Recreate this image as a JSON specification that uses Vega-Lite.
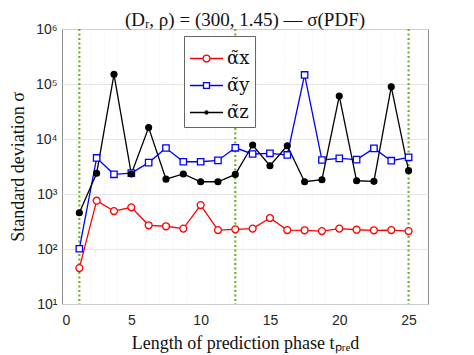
{
  "$schema": "https://vega.github.io/schema/vega-lite/v6.json",
  "width": 366,
  "height": 275,
  "autosize": {"type": "none"},
  "padding": {"left": 62, "top": 29, "right": 46, "bottom": 51},
  "background": "white",
  "title": {
    "text": "(D\u1d63, \u03c1) = (300, 1.45) \u2014 \u03c3(PDF)",
    "font": "Liberation Serif",
    "fontSize": 19,
    "fontWeight": "normal",
    "color": "#111",
    "offset": -8
  },
  "config": {
    "view": {"stroke": "#8c8c8c", "strokeWidth": 1},
    "axis": {
      "labelFont": "Liberation Sans",
      "labelFontSize": 14,
      "labelColor": "#262626",
      "titleFont": "Liberation Serif",
      "titleFontSize": 18,
      "titleFontWeight": "normal",
      "titleColor": "#111",
      "domain": false,
      "ticks": false,
      "gridColor": "#dedede",
      "gridWidth": 0.8
    }
  },
  "datasets": {
    "series": [
      {"t": 1.25, "s": "\u03b1\u0303x", "v": 45},
      {"t": 2.5, "s": "\u03b1\u0303x", "v": 755},
      {"t": 3.75, "s": "\u03b1\u0303x", "v": 490},
      {"t": 5, "s": "\u03b1\u0303x", "v": 573},
      {"t": 6.25, "s": "\u03b1\u0303x", "v": 270},
      {"t": 7.5, "s": "\u03b1\u0303x", "v": 259},
      {"t": 8.75, "s": "\u03b1\u0303x", "v": 235},
      {"t": 10, "s": "\u03b1\u0303x", "v": 630},
      {"t": 11.25, "s": "\u03b1\u0303x", "v": 221},
      {"t": 12.5, "s": "\u03b1\u0303x", "v": 228},
      {"t": 13.75, "s": "\u03b1\u0303x", "v": 235},
      {"t": 15, "s": "\u03b1\u0303x", "v": 366},
      {"t": 16.25, "s": "\u03b1\u0303x", "v": 221},
      {"t": 17.5, "s": "\u03b1\u0303x", "v": 219},
      {"t": 18.75, "s": "\u03b1\u0303x", "v": 212},
      {"t": 20, "s": "\u03b1\u0303x", "v": 235},
      {"t": 21.25, "s": "\u03b1\u0303x", "v": 224},
      {"t": 22.5, "s": "\u03b1\u0303x", "v": 219},
      {"t": 23.75, "s": "\u03b1\u0303x", "v": 221},
      {"t": 25, "s": "\u03b1\u0303x", "v": 212},
      {"t": 1.25, "s": "\u03b1\u0303y", "v": 101},
      {"t": 2.5, "s": "\u03b1\u0303y", "v": 4520},
      {"t": 3.75, "s": "\u03b1\u0303y", "v": 2280},
      {"t": 5, "s": "\u03b1\u0303y", "v": 2400},
      {"t": 6.25, "s": "\u03b1\u0303y", "v": 3720},
      {"t": 7.5, "s": "\u03b1\u0303y", "v": 6860},
      {"t": 8.75, "s": "\u03b1\u0303y", "v": 3860},
      {"t": 10, "s": "\u03b1\u0303y", "v": 3860},
      {"t": 11.25, "s": "\u03b1\u0303y", "v": 4080},
      {"t": 12.5, "s": "\u03b1\u0303y", "v": 6920},
      {"t": 13.75, "s": "\u03b1\u0303y", "v": 5340},
      {"t": 15, "s": "\u03b1\u0303y", "v": 5490},
      {"t": 16.25, "s": "\u03b1\u0303y", "v": 5130},
      {"t": 17.5, "s": "\u03b1\u0303y", "v": 146000},
      {"t": 18.75, "s": "\u03b1\u0303y", "v": 4150},
      {"t": 20, "s": "\u03b1\u0303y", "v": 4450},
      {"t": 21.25, "s": "\u03b1\u0303y", "v": 4210},
      {"t": 22.5, "s": "\u03b1\u0303y", "v": 6760},
      {"t": 23.75, "s": "\u03b1\u0303y", "v": 4030},
      {"t": 25, "s": "\u03b1\u0303y", "v": 4650},
      {"t": 1.25, "s": "\u03b1\u0303z", "v": 457},
      {"t": 2.5, "s": "\u03b1\u0303z", "v": 2380},
      {"t": 3.75, "s": "\u03b1\u0303z", "v": 150000},
      {"t": 5, "s": "\u03b1\u0303z", "v": 2310},
      {"t": 6.25, "s": "\u03b1\u0303z", "v": 16100},
      {"t": 7.5, "s": "\u03b1\u0303z", "v": 1860},
      {"t": 8.75, "s": "\u03b1\u0303z", "v": 2310},
      {"t": 10, "s": "\u03b1\u0303z", "v": 1670},
      {"t": 11.25, "s": "\u03b1\u0303z", "v": 1670},
      {"t": 12.5, "s": "\u03b1\u0303z", "v": 2270},
      {"t": 13.75, "s": "\u03b1\u0303z", "v": 7770},
      {"t": 15, "s": "\u03b1\u0303z", "v": 3270},
      {"t": 16.25, "s": "\u03b1\u0303z", "v": 7550},
      {"t": 17.5, "s": "\u03b1\u0303z", "v": 1670},
      {"t": 18.75, "s": "\u03b1\u0303z", "v": 1820},
      {"t": 20, "s": "\u03b1\u0303z", "v": 60300},
      {"t": 21.25, "s": "\u03b1\u0303z", "v": 1740},
      {"t": 22.5, "s": "\u03b1\u0303z", "v": 1700},
      {"t": 23.75, "s": "\u03b1\u0303z", "v": 89000},
      {"t": 25, "s": "\u03b1\u0303z", "v": 2660}
    ],
    "vlines": [{"t": 1.25}, {"t": 12.5}, {"t": 25}]
  },
  "layer": [
    {
      "data": {"name": "vlines"},
      "mark": {"type": "rule", "color": "#77ac30", "strokeWidth": 2.2, "strokeDash": [2, 2.5]},
      "encoding": {
        "x": {
          "field": "t", "type": "quantitative",
          "scale": {"domain": [0, 26.4], "nice": false, "zero": false},
          "axis": {
            "orient": "top", "title": null, "labels": false,
            "values": [1,2,3,4,6,7,8,9,11,12,13,14,16,17,18,19,21,22,23,24,26],
            "gridColor": "#e8e8e8", "gridDash": [1, 2], "gridWidth": 0.8
          }
        }
      }
    },
    {
      "data": {"name": "series"},
      "mark": {"type": "line", "strokeWidth": 1.3},
      "encoding": {
        "x": {
          "field": "t", "type": "quantitative",
          "scale": {"domain": [0, 26.4], "nice": false, "zero": false},
          "axis": {
            "orient": "bottom",
            "values": [0, 5, 10, 15, 20, 25],
            "title": "Length of prediction phase t\u209a\u1d63\u2091d",
            "labelPadding": 9,
            "titlePadding": 7
          }
        },
        "y": {
          "field": "v", "type": "quantitative",
          "scale": {"type": "log", "domain": [10, 1000000], "nice": false},
          "axis": {
            "orient": "left",
            "values": [10, 100, 1000, 10000, 100000, 1000000],
            "labelExpr": "'10' + ['\u2070','\u00b9','\u00b2','\u00b3','\u2074','\u2075','\u2076'][round(log(datum.value)/LN10)]",
            "title": "Standard deviation \u03c3",
            "labelPadding": 5,
            "titlePadding": 8
          }
        },
        "color": {
          "field": "s", "type": "nominal",
          "scale": {"domain": ["\u03b1\u0303x", "\u03b1\u0303y", "\u03b1\u0303z"], "range": ["#ff0000", "#0000ff", "#000000"]},
          "legend": {
            "orient": "none",
            "legendX": 122,
            "legendY": 7,
            "title": null,
            "fillColor": "white",
            "strokeColor": "#666666",
            "padding": 5,
            "rowPadding": -9,
            "symbolSize": 1089,
            "symbolStrokeWidth": 1.3,
            "labelFont": "DejaVu Serif",
            "labelFontSize": 18,
            "labelFontStyle": "normal",
            "labelColor": "#111",
            "labelOffset": 3,
            "encode": {
              "symbols": {
                "update": {
                  "shape": {"signal": "['M-1,0H-0.21M0.21,0H1M-0.21,0A0.21,0.21,0,1,1,0.21,0A0.21,0.21,0,1,1,-0.21,0Z','M-1,0H-0.18M0.18,0H1M-0.18,-0.18H0.18V0.18H-0.18Z','M-1,0H1M-0.09,0A0.09,0.09,0,1,1,0.09,0A0.09,0.09,0,1,1,-0.09,0Z'][datum.index]"},
                  "fill": {"signal": "datum.index == 2 ? 'black' : 'white'"},
                  "fillOpacity": {"value": 1},
                  "opacity": {"value": 1}
                }
              }
            }
          }
        }
      }
    },
    {
      "data": {"name": "series"},
      "mark": {"type": "point", "filled": false, "strokeWidth": 1.3, "opacity": 1},
      "encoding": {
        "x": {"field": "t", "type": "quantitative", "axis": null},
        "y": {
          "field": "v", "type": "quantitative",
          "axis": {
            "orient": "right", "title": null, "labels": false,
            "values": [20,30,40,50,60,70,80,90,200,300,400,500,600,700,800,900,2000,3000,4000,5000,6000,7000,8000,9000,20000,30000,40000,50000,60000,70000,80000,90000,200000,300000,400000,500000,600000,700000,800000,900000],
            "gridColor": "#e8e8e8", "gridDash": [1, 2], "gridWidth": 0.8
          }
        },
        "color": {"field": "s", "type": "nominal", "legend": null},
        "fill": {"field": "s", "type": "nominal", "scale": {"range": ["white", "white", "black"]}, "legend": null},
        "shape": {"field": "s", "type": "nominal", "scale": {"range": ["circle", "square", "circle"]}, "legend": null},
        "size": {"field": "s", "type": "nominal", "scale": {"range": [48, 34, 10]}, "legend": null}
      }
    }
  ],
  "resolve": {"axis": {"x": "independent", "y": "independent"}}
}
